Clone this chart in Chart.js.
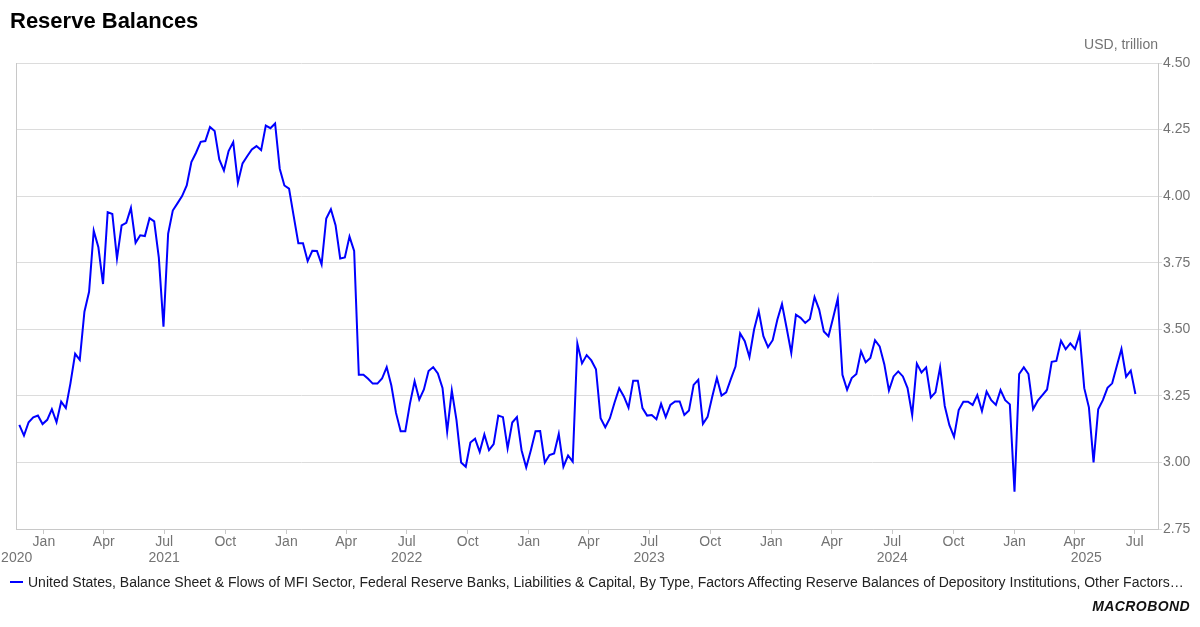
<!DOCTYPE html>
<html>
<head>
<meta charset="utf-8">
<script src="https://cdn.jsdelivr.net/npm/chart.js@4.4.1/dist/chart.umd.min.js"></script>
<style>
  body { margin: 0; background: #fff; font-family: "Liberation Sans", Arial, sans-serif; }
  #wrap { position: relative; width: 1200px; height: 627px; overflow: hidden; }
  #myChart { position: absolute; left: 0; top: 0; }
  .title { position: absolute; left: 10px; top: 8px; font-size: 22px; font-weight: bold; color: #000; }
  .unit { position: absolute; right: 42px; top: 36px; font-size: 14px; color: #737373; }
  .legend { position: absolute; left: 10px; top: 574px; width: 1185px; font-size: 14px; color: #222; white-space: nowrap; }
  .legend .swatch { display: inline-block; width: 13px; height: 2px; background: #0000ff; vertical-align: middle; margin-right: 5px; position: relative; top: -1px; }
  .logo { position: absolute; right: 10px; top: 598px; font-size: 14px; font-weight: bold; font-style: italic; letter-spacing: 0.4px; color: #111; }
</style>
</head>
<body>
<div id="wrap">
  <canvas id="myChart" width="1200" height="627"></canvas>
  <div class="title">Reserve Balances</div>
  <div class="unit">USD, trillion</div>
  <div class="legend"><span class="swatch"></span>United States, Balance Sheet &amp; Flows of MFI Sector, Federal Reserve Banks, Liabilities &amp; Capital, By Type, Factors Affecting Reserve Balances of Depository Institutions, Other Factors…</div>
  <div class="logo">MACROBOND</div>
</div>
<script>
// weekly observations (Wednesdays), first one 2020-11-25
// x is counted in days from 2021-01-01
const firstDay = -37;
const stepDays = 7;

const reserveBalances = [
  3.141, 3.101, 3.151, 3.169, 3.176, 3.144, 3.160, 3.200, 3.151, 3.228,
  3.204, 3.298, 3.408, 3.385, 3.566, 3.641, 3.870, 3.808, 3.670, 3.940,
  3.933, 3.766, 3.890, 3.900, 3.956, 3.825, 3.853, 3.850, 3.917, 3.905,
  3.769, 3.510, 3.859, 3.946, 3.973, 4.000, 4.040, 4.128, 4.163, 4.204,
  4.207, 4.260, 4.245, 4.138, 4.096, 4.169, 4.203, 4.050, 4.123, 4.150,
  4.175, 4.188, 4.173, 4.265, 4.255, 4.273, 4.103, 4.040, 4.028, 3.925,
  3.823, 3.823, 3.756, 3.795, 3.794, 3.744, 3.916, 3.951, 3.891, 3.766,
  3.770, 3.848, 3.794, 3.329, 3.329, 3.314, 3.296, 3.296, 3.315, 3.358,
  3.289, 3.186, 3.117, 3.117, 3.221, 3.305, 3.236, 3.274, 3.343, 3.358,
  3.334, 3.280, 3.116, 3.270, 3.160, 3.000, 2.984, 3.075, 3.089, 3.040,
  3.105, 3.046, 3.069, 3.176, 3.170, 3.053, 3.150, 3.170, 3.046, 2.981,
  3.046, 3.117, 3.118, 2.999, 3.028, 3.034, 3.107, 2.984, 3.026, 3.003,
  3.446, 3.372, 3.403, 3.383, 3.350, 3.166, 3.132, 3.166, 3.225, 3.279,
  3.248, 3.206, 3.307, 3.307, 3.204, 3.176, 3.178, 3.162, 3.220, 3.170,
  3.216, 3.229, 3.229, 3.178, 3.195, 3.291, 3.310, 3.145, 3.171, 3.247,
  3.317, 3.251, 3.263, 3.313, 3.360, 3.484, 3.455, 3.396, 3.499, 3.568,
  3.474, 3.433, 3.459, 3.536, 3.595, 3.505, 3.411, 3.555, 3.543, 3.524,
  3.539, 3.621, 3.574, 3.492, 3.474, 3.543, 3.616, 3.329, 3.273, 3.317,
  3.332, 3.417, 3.376, 3.392, 3.459, 3.436, 3.369, 3.270, 3.323, 3.342,
  3.323, 3.279, 3.178, 3.371, 3.338, 3.357, 3.244, 3.263, 3.357, 3.212,
  3.140, 3.096, 3.197, 3.228, 3.228, 3.216, 3.253, 3.193, 3.266, 3.234,
  3.216, 3.272, 3.234, 3.218, 2.890, 3.332, 3.357, 3.332, 3.200, 3.232,
  3.253, 3.274, 3.378, 3.381, 3.457, 3.425, 3.447, 3.426, 3.482, 3.279,
  3.207, 3.000, 3.200, 3.234, 3.280, 3.297, 3.362, 3.426, 3.322, 3.345,
  3.257
];

// month ticks: [day offset from 2021-01-01, label]
const monthTickDays = [0, 90, 181, 273, 365, 455, 546, 638, 730, 820, 911, 1003,
  1095, 1186, 1277, 1369, 1461, 1551, 1642];
const monthTickLabels = ["Jan", "Apr", "Jul", "Oct", "Jan", "Apr", "Jul", "Oct",
  "Jan", "Apr", "Jul", "Oct", "Jan", "Apr", "Jul", "Oct", "Jan", "Apr", "Jul"];

const yearTickDays = [-41, 181, 546, 911, 1277, 1569];
const yearTickLabels = ["2020", "2021", "2022", "2023", "2024", "2025"];

const yTicks = [2.75, 3.0, 3.25, 3.5, 3.75, 4.0, 4.25, 4.5];

const xMin = -42;
const xMax = 1677;

const points = reserveBalances.map((v, i) => ({ x: firstDay + i * stepDays, y: v }));

const gridColor = "#dcdcdc";
const axisColor = "#c8c8c8";
const textColor = "#737373";
const tickFont = { family: "'Liberation Sans', Arial, sans-serif", size: 14 };

const data = {
  datasets: [
    {
      label: "Reserve balances",
      data: points,
      borderColor: "#0000ff",
      borderWidth: 2,
      pointRadius: 0,
      fill: false,
      tension: 0,
    },
  ],
};

const config = {
  type: "line",
  data: data,
  options: {
    responsive: false,
    animation: false,
    layout: { padding: { left: 16, top: 63, right: 0, bottom: 60 } },
    plugins: {
      legend: { display: false },
      title: { display: false },
      tooltip: { enabled: false },
    },
    scales: {
      x: {
        type: "linear",
        position: "bottom",
        weight: 0,
        min: xMin,
        max: xMax,
        afterBuildTicks: (scale) => {
          scale.ticks = monthTickDays.map((d) => ({ value: d }));
        },
        afterFit: (scale) => {
          scale.height = 20;
        },
        grid: {
          display: true,
          drawOnChartArea: false,
          drawTicks: true,
          tickLength: 5,
          color: axisColor,
        },
        border: { display: true, color: axisColor },
        ticks: {
          autoSkip: false,
          maxRotation: 0,
          padding: 0,
          color: textColor,
          font: tickFont,
          callback: (value) => {
            const i = monthTickDays.indexOf(value);
            return i >= 0 ? monthTickLabels[i] : "";
          },
        },
      },
      x2: {
        type: "linear",
        axis: "x",
        position: "bottom",
        weight: 1,
        min: xMin,
        max: xMax,
        afterBuildTicks: (scale) => {
          scale.ticks = yearTickDays.map((d) => ({ value: d }));
        },
        afterFit: (scale) => {
          scale.height = 18;
        },
        grid: { display: false, drawTicks: false },
        border: { display: false },
        ticks: {
          autoSkip: false,
          maxRotation: 0,
          padding: 1,
          color: textColor,
          font: tickFont,
          callback: (value) => {
            const i = yearTickDays.indexOf(value);
            return i >= 0 ? yearTickLabels[i] : "";
          },
        },
      },
      y: {
        type: "linear",
        position: "right",
        min: 2.75,
        max: 4.5,
        afterBuildTicks: (scale) => {
          scale.ticks = yTicks.map((v) => ({ value: v }));
        },
        afterFit: (scale) => {
          scale.width = 42;
        },
        grid: {
          color: gridColor,
          drawTicks: true,
          tickLength: 4,
        },
        border: { display: true, color: axisColor },
        ticks: {
          padding: 1,
          color: textColor,
          font: tickFont,
          callback: (value) => value.toFixed(2),
        },
      },
      y2: {
        type: "linear",
        axis: "y",
        position: "left",
        min: 2.75,
        max: 4.5,
        afterFit: (scale) => {
          scale.width = 0;
        },
        grid: { display: false, drawTicks: false },
        border: { display: true, color: axisColor },
        ticks: { display: false },
      },
    },
  },
};

const ctx = document.getElementById("myChart").getContext("2d");
new Chart(ctx, config);
</script>
</body>
</html>
